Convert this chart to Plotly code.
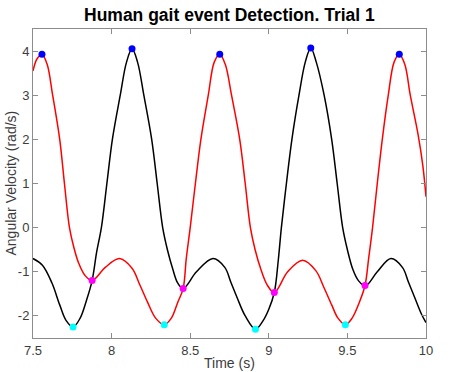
import plotly.graph_objects as go

# ---- data ----
black_t = [7.50, 7.56, 7.62, 7.67, 7.71, 7.755, 7.80, 7.84, 7.876, 7.905, 7.935, 7.97, 8.005, 8.055,
           8.095, 8.13, 8.165, 8.205, 8.255, 8.29, 8.325, 8.355, 8.39, 8.42, 8.455, 8.54, 8.645,
           8.72, 8.76, 8.80, 8.85, 8.915, 8.965, 9.00, 9.035, 9.06, 9.08, 9.112, 9.147, 9.192,
           9.232, 9.267, 9.302, 9.352, 9.40, 9.435, 9.47, 9.50, 9.535, 9.57, 9.615, 9.69, 9.777,
           9.85, 9.89, 9.93, 9.97, 10.0]
black_v = [-0.70, -0.85, -1.25, -1.75, -2.10, -2.25, -2.05, -1.65, -1.20, -0.55, 0.00, 1.00, 2.00, 3.00,
           3.75, 4.05, 3.75, 3.00, 2.00, 1.00, 0.00, -0.50, -0.95, -1.25, -1.38, -1.00, -0.70,
           -0.90, -1.25, -1.60, -2.00, -2.30, -2.10, -1.85, -1.47, -0.75, 0.00, 1.00, 2.00, 3.00,
           3.75, 4.07, 3.75, 3.00, 2.00, 1.00, 0.00, -0.50, -0.95, -1.20, -1.32, -1.00, -0.70,
           -0.90, -1.25, -1.60, -1.95, -2.15]

red_t = [7.50, 7.525, 7.557, 7.59, 7.625, 7.67, 7.70, 7.732, 7.76, 7.79, 7.83, 7.876, 7.96, 8.05,
         8.13, 8.18, 8.23, 8.28, 8.335, 8.38, 8.42, 8.455, 8.475, 8.50, 8.533, 8.568, 8.615,
         8.653, 8.688, 8.723, 8.763, 8.815, 8.85, 8.883, 8.913, 8.95, 8.99, 9.035, 9.12, 9.215,
         9.30, 9.35, 9.40, 9.44, 9.487, 9.53, 9.575, 9.612, 9.635, 9.66, 9.69, 9.722, 9.76,
         9.797, 9.83, 9.865, 9.90, 9.95, 9.98, 10.0]
red_v = [3.55, 3.82, 3.93, 3.70, 3.00, 2.00, 1.00, 0.00, -0.45, -0.80, -1.08, -1.20, -0.90, -0.70,
         -0.92, -1.30, -1.70, -2.05, -2.20, -2.05, -1.70, -1.38, -0.70, 0.00, 1.00, 2.00, 3.00,
         3.75, 3.93, 3.70, 3.00, 2.00, 1.00, 0.00, -0.50, -0.95, -1.30, -1.47, -1.00, -0.74,
         -0.98, -1.35, -1.75, -2.05, -2.20, -2.05, -1.70, -1.31, -0.70, 0.00, 1.00, 2.00, 3.00,
         3.75, 3.93, 3.70, 3.00, 2.10, 1.40, 0.70]

peak_t = [7.557, 8.13, 8.688, 9.267, 9.83]
peak_v = [3.93, 4.05, 3.93, 4.07, 3.93]
min_t = [7.755, 8.335, 8.915, 9.487]
min_v = [-2.25, -2.20, -2.30, -2.20]
cross_t = [7.876, 8.455, 9.035, 9.612]
cross_v = [-1.20, -1.38, -1.47, -1.31]

x_ticks = [7.5, 8, 8.5, 9, 9.5, 10]
x_labels = ["7.5", "8", "8.5", "9", "9.5", "10"]
y_ticks = [-2, -1, 0, 1, 2, 3, 4]
y_labels = ["-2", "-1", "0", "1", "2", "3", "4"]

title = "Human gait event Detection. Trial 1"
x_title = "Time (s)"
y_title = "Angular Velocity (rad/s)"

# ---- figure ----
FONT = "Liberation Sans, Arial, Helvetica, sans-serif"
fig = go.Figure()
fig.add_trace(go.Scatter(x=red_t, y=red_v, mode="lines", line=dict(color="#ff0000", width=1.5, shape="spline", smoothing=1.0),
                         hoverinfo="skip", showlegend=False))
fig.add_trace(go.Scatter(x=black_t, y=black_v, mode="lines", line=dict(color="#000000", width=1.5, shape="spline", smoothing=1.0),
                         hoverinfo="skip", showlegend=False))
fig.add_trace(go.Scatter(x=peak_t, y=peak_v, mode="markers", marker=dict(color="#0000ff", size=7), showlegend=False))
fig.add_trace(go.Scatter(x=min_t, y=min_v, mode="markers", marker=dict(color="#00ffff", size=7), showlegend=False))
fig.add_trace(go.Scatter(x=cross_t, y=cross_v, mode="markers", marker=dict(color="#ff00ff", size=7), showlegend=False))

axis_common = dict(showgrid=False, zeroline=False, showline=True, linecolor="#8c8c8c", linewidth=1,
                   mirror="ticks", ticks="inside", ticklen=5, tickcolor="#8c8c8c",
                   tickfont=dict(family=FONT, size=13, color="#3c3c3c"))

fig.update_layout(
    width=474, height=372,
    margin=dict(l=33, r=48, t=29, b=34, autoexpand=False),
    paper_bgcolor="white", plot_bgcolor="white",
    xaxis=dict(range=[7.5, 10], tickvals=x_ticks, ticktext=x_labels, **axis_common),
    yaxis=dict(range=[-2.5, 4.5], tickvals=y_ticks, ticktext=y_labels, **axis_common),
    annotations=[
        dict(text="<b>" + title + "</b>", x=0.5, y=1, xref="paper", yref="paper", xanchor="center",
             yanchor="bottom", yshift=2, showarrow=False, font=dict(family=FONT, size=17.5, color="black")),
        dict(text=x_title, x=0.5, y=0, xref="paper", yref="paper", xanchor="center", yanchor="top",
             yshift=-15, showarrow=False, font=dict(family=FONT, size=14, color="#3c3c3c")),
        dict(text=y_title, x=0, y=0.5, xref="paper", yref="paper", xanchor="center", yanchor="middle",
             xshift=-23, textangle=-90, showarrow=False, font=dict(family=FONT, size=14, color="#3c3c3c")),
    ],
)

fig.write_html("out.html", config={"displayModeBar": False},
               post_script="document.body.style.margin='0';document.body.style.overflow='hidden';")
